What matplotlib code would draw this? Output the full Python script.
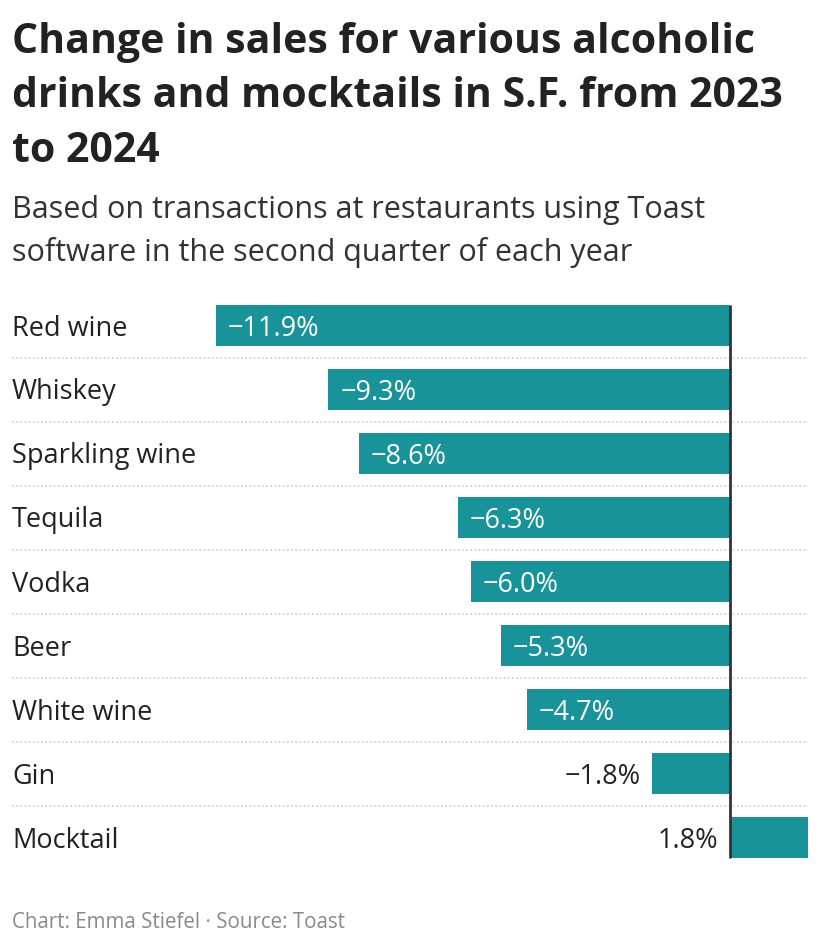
import matplotlib
matplotlib.use("Agg")
import matplotlib.pyplot as plt
from matplotlib.transforms import blended_transform_factory, offset_copy

categories = ["Red wine", "Whiskey", "Sparkling wine", "Tequila", "Vodka",
              "Beer", "White wine", "Gin", "Mocktail"]
values = [-11.9, -9.3, -8.6, -6.3, -6.0, -5.3, -4.7, -1.8, 1.8]
labels = ["\u221211.9%", "\u22129.3%", "\u22128.6%", "\u22126.3%", "\u22126.0%",
          "\u22125.3%", "\u22124.7%", "\u22121.8%", "1.8%"]

title = "Change in sales for various alcoholic\ndrinks and mocktails in S.F. from 2023\nto 2024"
subtitle = "Based on transactions at restaurants using Toast\nsoftware in the second quarter of each year"
footer = "Chart: Emma Stiefel \u00b7 Source: Toast"

BAR = "#19939a"
W, H = 820, 950
FONT = ["Open Sans", "DejaVu Sans"]
plt.rcParams["font.family"] = FONT

fig = plt.figure(figsize=(W / 100, H / 100), dpi=100)
fig.patch.set_facecolor("white")

x0, x1 = 216, 808
y_top, y_bot = 293.5, 869.5
ax = fig.add_axes([x0 / W, 1 - y_bot / H, (x1 - x0) / W, (y_bot - y_top) / H])
ax.set_xlim(values[0], values[-1])
ax.set_ylim(len(categories) - 0.5, -0.5)
ax.axis("off")

ys = list(range(len(categories)))
ax.barh(ys, values, height=0.64, color=BAR, zorder=2)
ax.vlines(0, -0.32, len(categories) - 1 + 0.32, color="#333333", lw=2, zorder=3)

tr = blended_transform_factory(fig.transFigure, ax.transData)
for i in range(len(categories) - 1):
    ax.plot([12 / W, 808 / W], [i + 0.5, i + 0.5], transform=tr, color="#cccccc",
            lw=1.2, linestyle=(0, (1, 1.5)), clip_on=False, zorder=1)

tr_lab = offset_copy(tr, fig=fig, x=0, y=-3, units="dots")
for y, cat in zip(ys, categories):
    ax.text(12 / W, y, cat, transform=tr_lab, ha="left", va="center",
            fontsize=19.5, color="#222222")

for y, v, lab in zip(ys, values, labels):
    if abs(v) > 3:
        ax.annotate(lab, (v, y), xytext=(8.5, -2.2), textcoords="offset points",
                    ha="left", va="center", fontsize=19.5, color="white", zorder=4)
    else:
        ax.annotate(lab, (min(v, 0), y), xytext=(-8.5, -2.2), textcoords="offset points",
                    ha="right", va="center", fontsize=19.5, color="#222222", zorder=4)

fig.text(12 / W, 1 - 22 / H, title, ha="left", va="top", fontsize=29.5,
         fontweight="bold", color="#222222", linespacing=1.43)
fig.text(12 / W, 1 - 195 / H, subtitle, ha="left", va="top", fontsize=22,
         color="#333333", linespacing=1.5)
fig.text(12 / W, 1 - 922 / H, footer, ha="left", va="center", fontsize=14.8,
         color="#8a8a8a")

fig.savefig("out.png", dpi=100, facecolor="white")
